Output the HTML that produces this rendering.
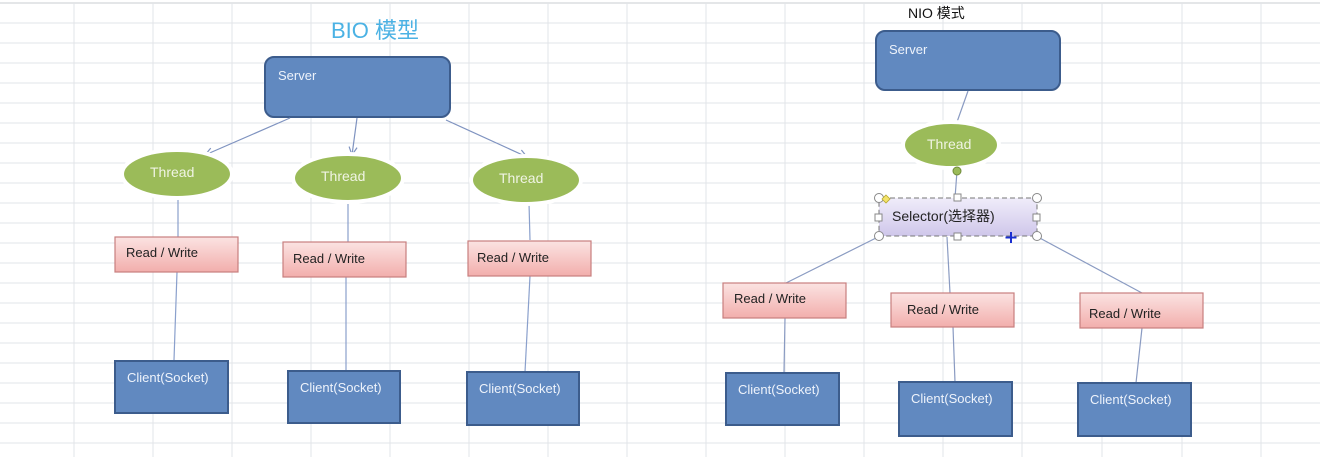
<!DOCTYPE html>
<html><head><meta charset="utf-8"><style>
html,body{margin:0;padding:0;background:#fff;}
svg{display:block;}
text{font-family:"Liberation Sans","Noto Sans CJK SC",sans-serif;}
</style></head><body>
<svg width="1320" height="457" viewBox="0 0 1320 457" xmlns="http://www.w3.org/2000/svg">
<defs>
<linearGradient id="pk" x1="0" y1="0" x2="0" y2="1"><stop offset="0" stop-color="#fbe3e2"/><stop offset="1" stop-color="#f2aeac"/></linearGradient>
<linearGradient id="lv" x1="0" y1="0" x2="0" y2="1"><stop offset="0" stop-color="#f0edfa"/><stop offset="1" stop-color="#cfc7ea"/></linearGradient>
<marker id="ar" markerWidth="10" markerHeight="10" refX="9" refY="5" orient="auto" markerUnits="userSpaceOnUse"><path d="M1,1 L9,5 L1,9" fill="none" stroke="#7f93c0" stroke-width="1.2"/></marker>
</defs>
<rect width="1320" height="457" fill="#fff"/>
<g stroke="#e2e4e8" stroke-width="1">
<line x1="0" y1="3" x2="1320" y2="3" stroke="#c8ccd2"/>
<line x1="0" y1="23" x2="1320" y2="23"/><line x1="0" y1="43" x2="1320" y2="43"/><line x1="0" y1="63" x2="1320" y2="63"/><line x1="0" y1="83" x2="1320" y2="83"/><line x1="0" y1="103" x2="1320" y2="103"/><line x1="0" y1="123" x2="1320" y2="123"/><line x1="0" y1="143" x2="1320" y2="143"/><line x1="0" y1="163" x2="1320" y2="163"/><line x1="0" y1="183" x2="1320" y2="183"/><line x1="0" y1="203" x2="1320" y2="203"/><line x1="0" y1="223" x2="1320" y2="223"/><line x1="0" y1="243" x2="1320" y2="243"/><line x1="0" y1="263" x2="1320" y2="263"/><line x1="0" y1="283" x2="1320" y2="283"/><line x1="0" y1="303" x2="1320" y2="303"/><line x1="0" y1="323" x2="1320" y2="323"/><line x1="0" y1="343" x2="1320" y2="343"/><line x1="0" y1="363" x2="1320" y2="363"/><line x1="0" y1="383" x2="1320" y2="383"/><line x1="0" y1="403" x2="1320" y2="403"/><line x1="0" y1="423" x2="1320" y2="423"/><line x1="0" y1="443" x2="1320" y2="443"/>
<line x1="74" y1="3" x2="74" y2="457"/><line x1="153" y1="3" x2="153" y2="457"/><line x1="232" y1="3" x2="232" y2="457"/><line x1="311" y1="3" x2="311" y2="457"/><line x1="390" y1="3" x2="390" y2="457"/><line x1="469" y1="3" x2="469" y2="457"/><line x1="548" y1="3" x2="548" y2="457"/><line x1="627" y1="3" x2="627" y2="457"/><line x1="706" y1="3" x2="706" y2="457"/><line x1="785" y1="3" x2="785" y2="457"/><line x1="864" y1="3" x2="864" y2="457"/><line x1="943" y1="3" x2="943" y2="457"/><line x1="1022" y1="3" x2="1022" y2="457"/><line x1="1102" y1="3" x2="1102" y2="457"/><line x1="1182" y1="3" x2="1182" y2="457"/><line x1="1261" y1="3" x2="1261" y2="457"/>
</g>

<!-- BIO -->
<text x="331" y="38" font-size="22" fill="#4bb2e4">BIO 模型</text>
<rect x="265" y="57" width="185" height="60" rx="9" fill="#6189c0" stroke="#3c5c8c" stroke-width="2"/>
<text x="278" y="80" font-size="13" fill="#eef3fb">Server</text>
<g stroke="#7f93c0" stroke-width="1.2" marker-end="url(#ar)">
<line x1="290" y1="118" x2="205" y2="155"/><line x1="357" y1="118" x2="352" y2="155"/><line x1="446" y1="120" x2="527" y2="157"/>
</g>
<g stroke="#8aa0cc" stroke-width="1.2">
<line x1="178" y1="197" x2="178" y2="237"/><line x1="177" y1="272" x2="174" y2="360"/>
<line x1="348" y1="200" x2="348" y2="242"/><line x1="346" y1="277" x2="346" y2="370"/>
<line x1="529" y1="203" x2="530" y2="240"/><line x1="530" y1="276" x2="525" y2="372"/>
</g>
<g fill="#9bbb59" stroke="#fff" stroke-width="4">
<ellipse cx="177" cy="174" rx="55" ry="24"/><ellipse cx="348" cy="178" rx="55" ry="24"/><ellipse cx="526" cy="180" rx="55" ry="24"/>
</g>
<g font-size="14" fill="#f0f4e4"><text x="150" y="177">Thread</text><text x="321" y="181">Thread</text><text x="499" y="183">Thread</text></g>
<g fill="url(#pk)" stroke="#c77f7e" stroke-width="1.2">
<rect x="115" y="237" width="123" height="35"/><rect x="283" y="242" width="123" height="35"/><rect x="468" y="241" width="123" height="35"/>
</g>
<g font-size="13" fill="#222"><text x="126" y="257">Read / Write</text><text x="293" y="263">Read / Write</text><text x="477" y="262">Read / Write</text></g>
<g fill="#6189c0" stroke="#3c5c8c" stroke-width="2">
<rect x="115" y="361" width="113" height="52"/><rect x="288" y="371" width="112" height="52"/><rect x="467" y="372" width="112" height="53"/>
</g>
<g font-size="13" fill="#eef3fb"><text x="127" y="382">Client(Socket)</text><text x="300" y="392">Client(Socket)</text><text x="479" y="393">Client(Socket)</text></g>

<!-- NIO -->
<text x="908" y="18" font-size="14" fill="#111">NIO 模式</text>
<rect x="876" y="31" width="184" height="59" rx="9" fill="#6189c0" stroke="#3c5c8c" stroke-width="2"/>
<text x="889" y="54" font-size="13" fill="#eef3fb">Server</text>
<g stroke="#8a9bc2" stroke-width="1.2">
<line x1="968" y1="91" x2="957" y2="122"/>
<line x1="957" y1="171" x2="955" y2="198"/>
<line x1="880" y1="236" x2="786" y2="283"/><line x1="947" y1="237" x2="950" y2="293"/><line x1="1036" y1="236" x2="1142" y2="293"/>
<line x1="785" y1="318" x2="784" y2="372"/><line x1="953" y1="327" x2="955" y2="382"/><line x1="1142" y1="328" x2="1136" y2="383"/>
</g>
<ellipse cx="951" cy="145" rx="48" ry="23" fill="#9bbb59" stroke="#fff" stroke-width="4"/>
<text x="927" y="149" font-size="14" fill="#f0f4e4">Thread</text>
<circle cx="957" cy="171" r="4" fill="#9bbb59" stroke="#6f8a3a" stroke-width="1"/>
<rect x="879" y="198" width="158" height="38" rx="3" fill="url(#lv)" stroke="#777" stroke-width="1" stroke-dasharray="5,3"/>
<text x="892" y="221" font-size="14" fill="#222">Selector(选择器)</text>
<g fill="#fff" stroke="#888" stroke-width="1">
<circle cx="879" cy="198" r="4.5"/><circle cx="1037" cy="198" r="4.5"/><circle cx="879" cy="236" r="4.5"/><circle cx="1037" cy="236" r="4.5"/>
<rect x="954" y="194" width="7" height="7"/><rect x="954" y="233" width="7" height="7"/><rect x="875" y="214" width="7" height="7"/><rect x="1033" y="214" width="7" height="7"/>
</g>
<path d="M886,195 L890,199 L886,203 L882,199 Z" fill="#f3e36a" stroke="#b8a830" stroke-width="0.8"/>
<path d="M1011,232 V243 M1005.5,237.5 H1016.5" stroke="#1a2fd0" stroke-width="2"/>
<g fill="url(#pk)" stroke="#c77f7e" stroke-width="1.2">
<rect x="723" y="283" width="123" height="35"/><rect x="891" y="293" width="123" height="34"/><rect x="1080" y="293" width="123" height="35"/>
</g>
<g font-size="13" fill="#222"><text x="734" y="303">Read / Write</text><text x="907" y="314">Read / Write</text><text x="1089" y="318">Read / Write</text></g>
<g fill="#6189c0" stroke="#3c5c8c" stroke-width="2">
<rect x="726" y="373" width="113" height="52"/><rect x="899" y="382" width="113" height="54"/><rect x="1078" y="383" width="113" height="53"/>
</g>
<g font-size="13" fill="#eef3fb"><text x="738" y="394">Client(Socket)</text><text x="911" y="403">Client(Socket)</text><text x="1090" y="404">Client(Socket)</text></g>
</svg>
</body></html>
